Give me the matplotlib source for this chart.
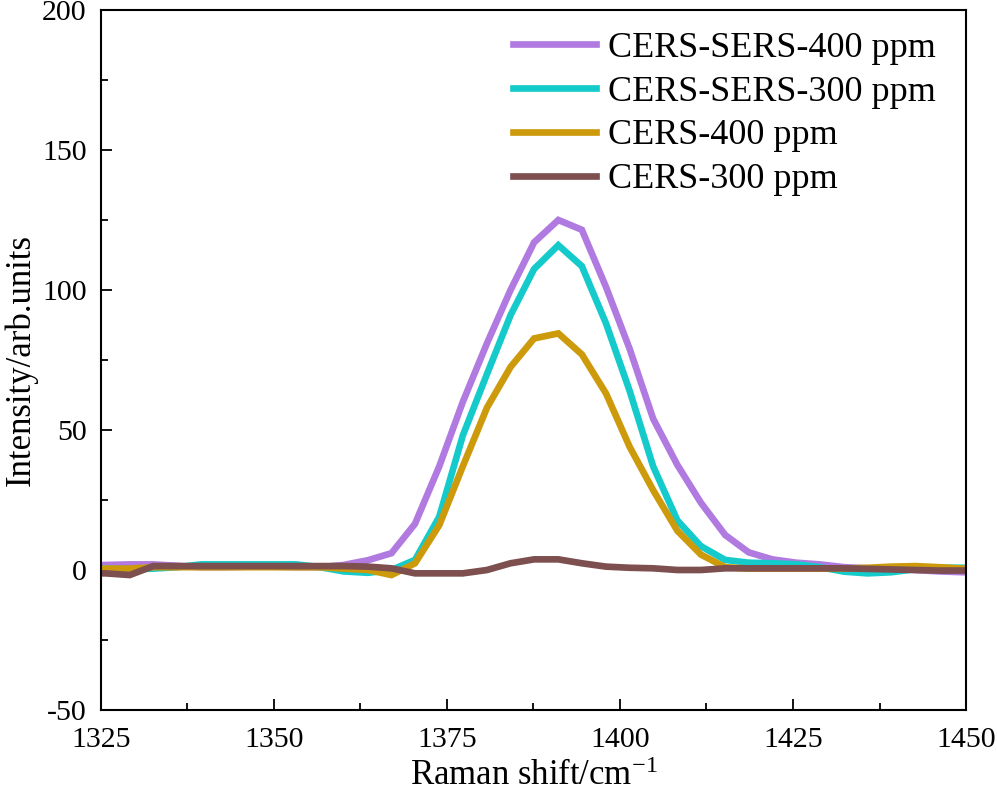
import matplotlib
matplotlib.use("Agg")
import matplotlib.pyplot as plt
from matplotlib.ticker import MultipleLocator

plt.rcParams['font.family'] = ['Liberation Serif', 'DejaVu Serif']
plt.rcParams['mathtext.default'] = 'regular'
plt.rcParams['axes.unicode_minus'] = False

raman_shift = [1322.3, 1325.7, 1329.2, 1332.6, 1336.0, 1339.5, 1342.9, 1346.4, 1349.8,
               1353.2, 1356.7, 1360.1, 1363.6, 1367.0, 1370.4, 1373.9, 1377.3, 1380.8,
               1384.2, 1387.6, 1391.1, 1394.5, 1398.0, 1401.4, 1404.8, 1408.3, 1411.7,
               1415.2, 1418.6, 1422.0, 1425.5, 1428.9, 1432.4, 1435.8, 1439.2, 1442.7,
               1446.1, 1449.6, 1453.0]

cers_sers_400 = [1.5, 1.8, 2.0, 2.0, 1.5, 1.0, 1.0, 1.2, 1.2, 1.0, 1.0, 1.8, 3.5, 6.0,
                 16.5, 37, 60, 81, 100, 117, 125, 121.5, 101, 79, 54, 37.5, 24, 12.5,
                 6.3, 3.8, 2.6, 2.0, 1.0, 0.6, 0.5, 0.0, -0.5, -0.8, -0.8]

cers_sers_300 = [0.5, 0.6, 0.2, 0.5, 1.0, 2.0, 2.0, 2.0, 2.0, 2.0, 1.0, -0.5, -1.0, 0.0,
                 3.6, 19, 48, 70, 91, 107.5, 116, 108.5, 88, 64, 37, 17.7, 8.5, 3.6,
                 2.6, 2.4, 2.0, 1.0, -0.6, -1.2, -0.8, 0.3, 0.8, 0.8, 0.8]

cers_400 = [0.5, 0.5, 0.5, 1.0, 1.0, 1.0, 1.0, 1.0, 1.0, 1.0, 1.0, 0.5, 0.0, -1.8,
            2.4, 16, 37, 58, 72.5, 82.7, 84.5, 77, 63, 44, 28.5, 14, 5.5, 1.0,
            0.5, 0.5, 0.5, 0.5, 0.5, 0.8, 1.2, 1.4, 1.0, 0.5, 0.5]

cers_300 = [-1.2, -1.2, -1.8, 1.4, 1.4, 1.4, 1.4, 1.4, 1.4, 1.4, 1.4, 1.4, 1.2, 0.6,
            -1.2, -1.2, -1.2, 0.0, 2.4, 3.8, 3.8, 2.4, 1.2, 0.8, 0.6, 0.0, 0.0, 0.6,
            0.6, 0.6, 0.6, 0.6, 0.6, 0.4, 0.2, 0.0, -0.2, -0.2, -0.2]

labels = ['CERS-SERS-400 ppm', 'CERS-SERS-300 ppm', 'CERS-400 ppm', 'CERS-300 ppm']
colors = ['#B07AE0', '#14CACA', '#CC9A0A', '#7D4F4F']
series = [cers_sers_400, cers_sers_300, cers_400, cers_300]

fig = plt.figure(figsize=(9.97, 8.0), dpi=100)
ax = fig.add_axes([0.101, 0.1125, 0.868, 0.875])

for y, c, lab in zip(series, colors, labels):
    ax.plot(raman_shift, y, color=c, lw=4.8, label=lab, solid_joinstyle='miter')

ax.set_xlim(1325, 1450)
ax.set_ylim(-50, 200)
ax.xaxis.set_major_locator(MultipleLocator(25))
ax.xaxis.set_minor_locator(MultipleLocator(12.5))
ax.yaxis.set_major_locator(MultipleLocator(50))
ax.yaxis.set_minor_locator(MultipleLocator(25))
ax.tick_params(which='both', direction='in', top=False, right=False, width=1.3,
               labelsize=21.5)
ax.tick_params(axis='x', pad=12)
ax.tick_params(axis='y', pad=10)
ax.tick_params(which='major', length=8)
ax.tick_params(which='minor', length=5)
for s in ax.spines.values():
    s.set_linewidth(1.5)

ax.set_xlabel('Raman shift/cm$^{\\mathregular{-1}}$', fontsize=25, labelpad=5)
ax.set_ylabel('Intensity/arb.units', fontsize=25, labelpad=3)

leg = ax.legend(loc='upper right', frameon=False, fontsize=26, handlelength=2.3,
                handletextpad=0.33, labelspacing=0.29, borderaxespad=0.2,
                bbox_to_anchor=(0.99, 1.0))

fig.savefig('out.png', dpi=100)
